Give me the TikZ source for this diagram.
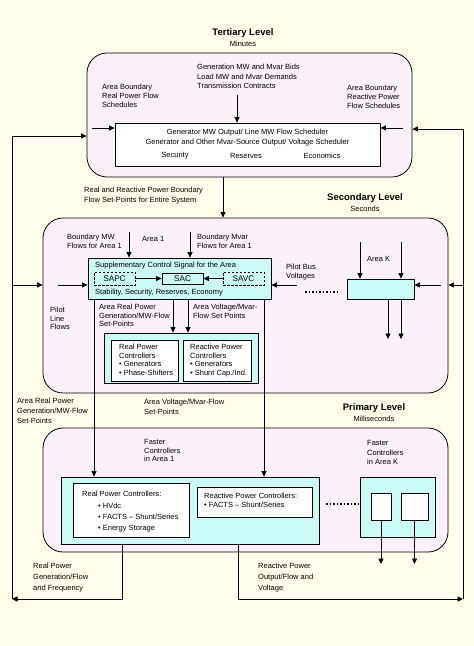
\documentclass[tikz,border=0pt]{standalone}
\usepackage{fontspec}
\setmainfont{Liberation Sans}
\usetikzlibrary{arrows.meta,fit}
\definecolor{cream}{RGB}{255,255,236}
\definecolor{pinkbg}{RGB}{252,240,250}
\definecolor{cyanbg}{RGB}{204,250,246}
\newcommand\lblfont[1]{\fontsize{7.5}{#1}\selectfont}
\begin{document}
\begin{tikzpicture}[x=1pt,y=-1pt,
  lbl/.style={font=\lblfont{9}, align=left, inner sep=0pt, anchor=north west},
  ttl/.style={font=\fontsize{9.5}{11}\bfseries\selectfont, inner sep=0pt},
  sub/.style={font=\lblfont{9}, inner sep=0pt},
  boxtxt/.style={font=\fontsize{8.2}{9}\selectfont, inner sep=0pt},
  level/.style={draw, line width=0.8pt, fill=pinkbg, rounded corners=20pt, inner sep=0pt},
  cbox/.style={draw, line width=0.8pt, fill=cyanbg, inner sep=0pt},
  wbox/.style={draw, line width=0.8pt, fill=white, inner sep=0pt},
  dbox/.style={draw, line width=0.8pt, dash pattern=on 2.5pt off 1.5pt, inner sep=0pt},
  arr/.style={line width=0.8pt, -{Triangle[length=5.5pt,width=5pt]}},
  dots/.style={line width=1.3pt, dash pattern=on 1.6pt off 1.9pt}]

\useasboundingbox (0,0) rectangle (474,646);
\fill[cream] (0,0) rectangle (474,646);

% ---------- boxes ----------
\node[level, fit={(87,53)(412,177)}] (tert) {};
\node[wbox, fit={(115,123)(380,166)}] (sched) {};

\node[level, fit={(43,218)(448,393)}] (sec) {};
\node[cbox, fit={(88,258)(271,299)}] (supp) {};
\node[dbox, fit={(94,272)(135,285)}] (sapc) {};
\node[cbox, fit={(162,273)(203,284)}] (sac) {};
\node[dbox, fit={(223,272)(264,285)}] (savc) {};
\node[boxtxt] (sapct) at (sapc.center) {SAPC};
\node[boxtxt] (sact) at (sac.center) {SAC};
\node[boxtxt] (savct) at (savc.center) {SAVC};
\node[cbox, fit={(104,333)(258,383)}] (sctl) {};
\node[wbox, fit={(111,340)(178,381)}] (srp) {};
\node[wbox, fit={(183,340)(251,381)}] (srq) {};
\node[cbox, fit={(347,279)(414,299)}] (kbox) {};

\node[level, fit={(43,428)(448,552)}] (prim) {};
\node[cbox, fit={(61,477)(319,544)}] (pctl) {};
\node[wbox, fit={(73,483)(189,537)}] (prp) {};
\node[wbox, fit={(197,487)(312,517)}] (prq) {};
\node[cbox, fit={(360,477)(435,537)}] (pk) {};
\node[wbox, fit={(371,493)(391,520)}] (pk1) {};
\node[wbox, fit={(401,493)(428,520)}] (pk2) {};

% ---------- coordinates ----------
\coordinate (cL) at (12,599);
\coordinate (cR) at (463,599);
\coordinate (yp) at (0,285);
\coordinate (ytl) at (0,136);
\coordinate (ytr) at (0,129);
\coordinate (tin) at (237,95);
\coordinate (tl) at (92,128);
\coordinate (tr) at (403,128);
\coordinate (xa) at (223,0);
\coordinate (b1) at (129,232);
\coordinate (b2) at (190,232);
\coordinate (pl) at (58,285);
\coordinate (pb) at (297,285);
\coordinate (s1) at (173,0);
\coordinate (s2) at (188,0);
\coordinate (v1) at (94,0);
\coordinate (v2) at (264,0);
\coordinate (d1) at (305,292);
\coordinate (d2) at (340,292);
\coordinate (k1) at (360,242);
\coordinate (k2) at (401,242);
\coordinate (kr) at (441,285);
\coordinate (ko1) at (388,339);
\coordinate (ko2) at (401,339);
\coordinate (pd1) at (326,504);
\coordinate (pd2) at (359,504);
\coordinate (po) at (0,564);
\coordinate (xr) at (122,0);
\coordinate (xq) at (238,0);

% ---------- connectors ----------
\draw[arr] (tin) -- (sched.north -| tin);
\draw[arr] (tl) -- (sched.west |- tl);
\draw[arr] (tr) -- (sched.east |- tr);
\draw[arr] (tert.south -| xa) -- (sec.north -| xa);

\draw[arr] (b1) -- (supp.north -| b1);
\draw[arr] (b2) -- (supp.north -| b2);
\draw[arr] (sapc.east) -- (sac.west);
\draw[arr] (savc.west) -- (sac.east);
\draw[arr] (pl) -- (supp.west |- pl);
\draw[arr] (pb) -- (supp.east |- pb);
\draw[arr] (supp.south -| s1) -- (sctl.north -| s1);
\draw[arr] (supp.south -| s2) -- (sctl.north -| s2);
\draw[arr] (supp.south -| v1) -- (pctl.north -| v1);
\draw[arr] (supp.south -| v2) -- (pctl.north -| v2);
\draw[dots] (d1) -- (d2);
\draw[arr] (k1) -- (kbox.north -| k1);
\draw[arr] (k2) -- (kbox.north -| k2);
\draw[arr] (kr) -- (kbox.east |- kr);
\draw[arr] (kbox.south -| ko1) -- (ko1);
\draw[arr] (kbox.south -| ko2) -- (ko2);

\draw[dots] (pd1) -- (pd2);
\draw[arr] (pk1.south) -- (pk1.south |- po);
\draw[arr] (pk2.south) -- (pk2.south |- po);

\draw[arr] (pctl.south -| xr) |- (cL);
\draw[arr] (cL) |- (tert.west |- ytl);
\draw[arr] (cL |- yp) -- (sec.west |- yp);
\draw[arr] (pctl.south -| xq) |- (cR);
\draw[arr] (cR) |- (tert.east |- ytr);
\draw[arr] (cR |- yp) -- (sec.east |- yp);

% ---------- titles ----------
\node[ttl] (t1) at (243,33) {Tertiary Level};
\node[sub] (t1s) at (243,44) {Minutes};
\node[ttl] (t2) at (365,198) {Secondary Level};
\node[sub] (t2s) at (365,209) {Seconds};
\node[ttl] (t3) at (374,408) {Primary Level};
\node[sub] (t3s) at (374,419) {Milliseconds};

% ---------- tertiary texts ----------
\node[lbl, font=\lblfont{9.5}] (l1) at (197,64.2) {Generation MW and Mvar Bids\\Load MW and Mvar Demands\\Transmission Contracts};
\node[lbl] (l2) at (102,84.2) {Area Boundary\\Real Power Flow\\Schedules};
\node[lbl] (l3) at (347,85.2) {Area Boundary\\Reactive Power\\Flow Schedules};
\node[sub, align=center, font=\lblfont{10}] (l4) at (247.5,138) {Generator MW Output/ Line MW Flow Scheduler\\Generator and Other Mvar-Source Output/ Voltage Scheduler};
\node[sub] (l5) at (175,156) {Security};
\node[sub] (l6) at (246,156) {Reserves};
\node[sub] (l7) at (322,156) {Economics};

% ---------- secondary texts ----------
\node[lbl, font=\lblfont{10}] (l8) at (84,187.2) {Real and Reactive Power Boundary\\Flow Set-Points for Entire System};
\node[lbl] (l9) at (67,234.2) {Boundary MW\\Flows for Area 1};
\node[lbl] (l10) at (142,236.2) {Area 1};
\node[lbl] (l11) at (197,234.2) {Boundary Mvar\\Flows for Area 1};
\node[lbl] (l12) at (95,262) {Supplementary Control Signal for the Area};
\node[lbl] (l13) at (95,289) {Stability, Security, Reserves, Economy};
\node[lbl, font=\lblfont{8.5}] (l14) at (50,307.2) {Pilot\\Line\\Flows};
\node[lbl, font=\lblfont{8.5}] (l15) at (286,264.2) {Pilot Bus\\Voltages};
\node[lbl] (l16) at (367,256.2) {Area K};
\node[lbl, font=\lblfont{8.5}] (l17) at (99,304.2) {Area Real Power\\Generation/MW-Flow\\Set-Points};
\node[lbl, font=\lblfont{8.5}] (l18) at (193,304.2) {Area Voltage/Mvar-\\Flow Set Points};
\node[lbl, font=\lblfont{8.5}] (l19) at (119,344.2) {Real Power\\Controllers\\\textbullet{} Generators\\\textbullet{} Phase-Shifters};
\node[lbl, font=\lblfont{8.5}] (l20) at (190,344.2) {Reactive Power\\Controllers\\\textbullet{} Generators\\\textbullet{} Shunt Cap./Ind.};

% ---------- primary texts ----------
\node[lbl, font=\lblfont{10}] (l21) at (17,398.2) {Area Real Power\\Generation/MW-Flow\\Set-Points};
\node[lbl, font=\lblfont{10}] (l22) at (144,399.2) {Area Voltage/Mvar-Flow\\Set-Points};
\node[lbl, font=\lblfont{8.7}] (l23) at (144,439.2) {Faster\\Controllers\\in Area 1};
\node[lbl, font=\lblfont{9.5}] (l24) at (367,440.2) {Faster\\Controllers\\in Area K};
\node[lbl] (l25) at (82,491.2) {Real Power Controllers:};
\node[lbl, font=\lblfont{10.7}] (l26) at (98,503.2) {\textbullet{} HVdc\\\textbullet{} FACTS -- Shunt/Series\\\textbullet{} Energy Storage};
\node[lbl] (l27) at (204,493.2) {Reactive Power Controllers:\\\textbullet{} FACTS -- Shunt/Series};
\node[lbl, font=\lblfont{11}] (l28) at (33,563.2) {Real Power\\Generation/Flow\\and Frequency};
\node[lbl, font=\lblfont{11}] (l29) at (258,563.2) {Reactive Power\\Output/Flow and\\Voltage};
\end{tikzpicture}
\end{document}
